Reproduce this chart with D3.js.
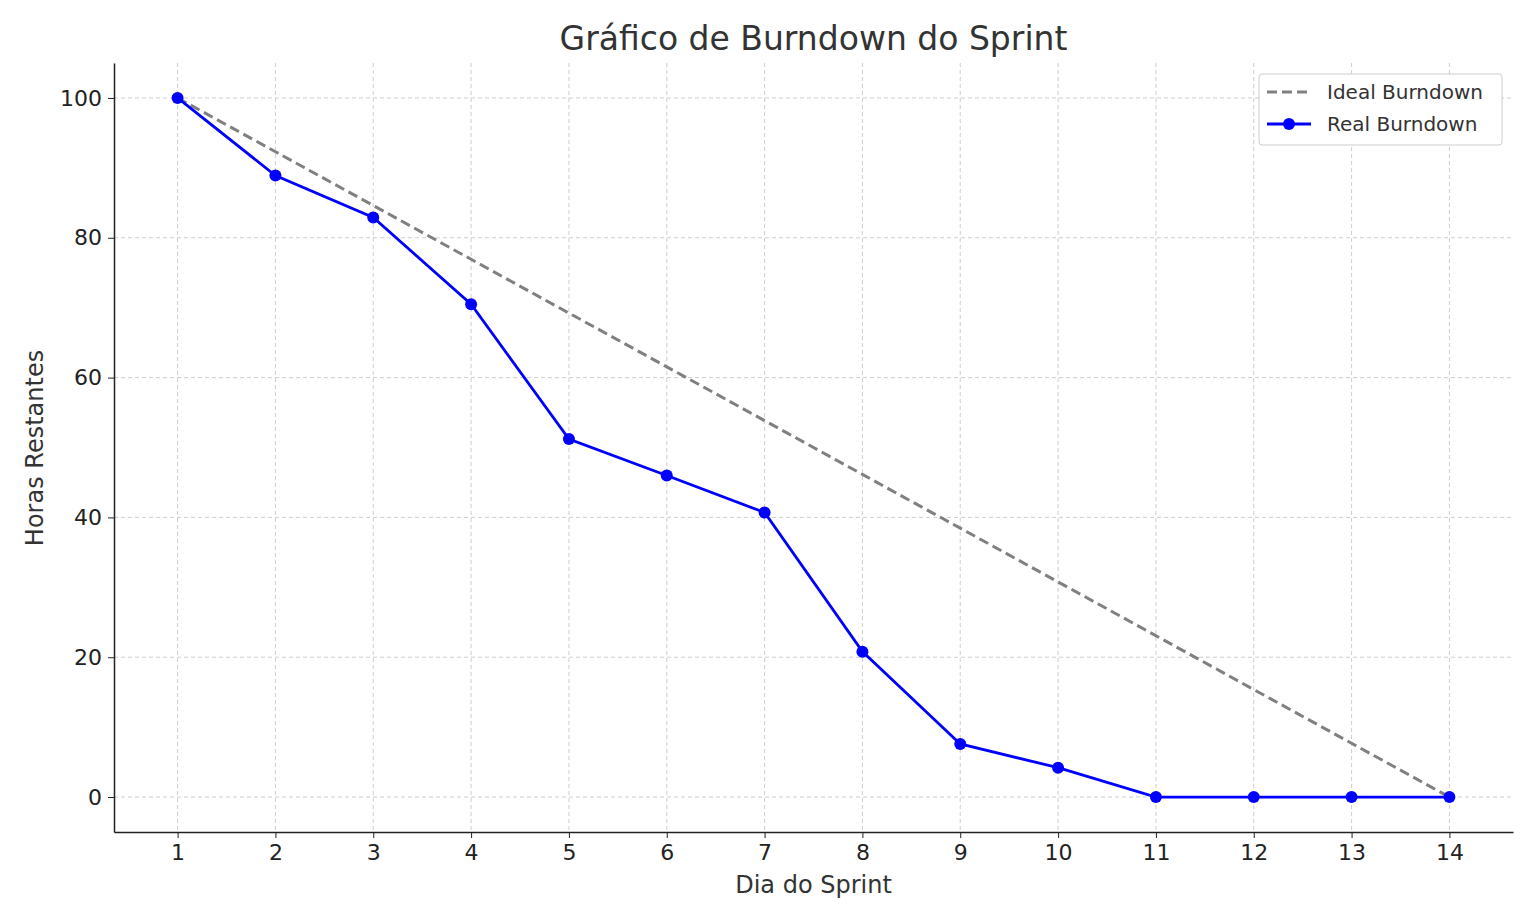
<!DOCTYPE html>
<html><head><meta charset="utf-8">
<script src="https://cdn.jsdelivr.net/npm/d3@7"></script>
<style>body{margin:0;background:#fff;font-family:"DejaVu Sans",sans-serif;}</style>
</head><body><svg id="c" width="1536" height="922"></svg>
<script>
const days=[1,2,3,4,5,6,7,8,9,10,11,12,13,14];
const ideal=[100,92.31,84.62,76.92,69.23,61.54,53.85,46.15,38.46,30.77,23.08,15.38,7.69,0];
const real=[100,88.9,82.9,70.5,51.2,46,40.7,20.8,7.6,4.2,0,0,0,0];
const yTicks=[0,20,40,60,80,100];
const svg=d3.select("#c");
const L=114,R=1513,T=63,B=832;
const x=d3.scaleLinear().domain([0.35,14.65]).range([L,R]);
const y=d3.scaleLinear().domain([-5,105]).range([B,T]);
const g=svg.append("g");
g.selectAll(".vx").data(days).join("line").attr("x1",d=>x(d)).attr("x2",d=>x(d)).attr("y1",T).attr("y2",B).attr("stroke","#c8c8c8").attr("stroke-dasharray","4,3").attr("stroke-width",0.9);
g.selectAll(".hy").data(yTicks).join("line").attr("x1",L).attr("x2",R).attr("y1",d=>y(d)).attr("y2",d=>y(d)).attr("stroke","#c8c8c8").attr("stroke-dasharray","4,3").attr("stroke-width",0.9);
const xa=svg.append("g").attr("transform",`translate(0,${B})`).call(d3.axisBottom(x).tickValues(days).tickSize(6).tickPadding(6).tickSizeOuter(0));
const ya=svg.append("g").attr("transform",`translate(${L},0)`).call(d3.axisLeft(y).tickValues(yTicks).tickSize(6).tickPadding(6).tickSizeOuter(0));
[xa,ya].forEach(a=>{a.attr("font-size",null);a.selectAll("text").style("font-size","22px").attr("fill","#222").style("font-family","DejaVu Sans");a.select(".domain").attr("stroke","#222").attr("stroke-width",1.5);a.selectAll(".tick line").attr("stroke","#222");});
svg.append("path").datum(days.map((d,i)=>[d,ideal[i]])).attr("d",d3.line().x(d=>x(d[0])).y(d=>y(d[1]))).attr("fill","none").attr("stroke","#808080").attr("stroke-width",3).attr("stroke-dasharray","10,5");
svg.append("path").datum(days.map((d,i)=>[d,real[i]])).attr("d",d3.line().x(d=>x(d[0])).y(d=>y(d[1]))).attr("fill","none").attr("stroke","#0000ff").attr("stroke-width",2.8);
svg.selectAll(".pt").data(days).join("circle").attr("cx",d=>x(d)).attr("cy",(d,i)=>y(real[i])).attr("r",6).attr("fill","#0000ff");
svg.append("text").attr("x",(L+R)/2).attr("y",50).attr("text-anchor","middle").style("font-size","33px").attr("fill","#333").text("Gráfico de Burndown do Sprint");
svg.append("text").attr("x",(L+R)/2).attr("y",893).attr("text-anchor","middle").style("font-size","24px").attr("fill","#333").text("Dia do Sprint");
svg.append("text").attr("transform",`translate(43,448) rotate(-90)`).attr("text-anchor","middle").style("font-size","24px").attr("fill","#333").text("Horas Restantes");
const lg=svg.append("g").attr("transform","translate(1259,74)");
lg.append("rect").attr("width",243).attr("height",71).attr("rx",3).attr("fill","#fff").attr("stroke","#ccc");
lg.append("line").attr("x1",8).attr("x2",52).attr("y1",18).attr("y2",18).attr("stroke","#808080").attr("stroke-width",3).attr("stroke-dasharray","10,5");
lg.append("line").attr("x1",8).attr("x2",52).attr("y1",50).attr("y2",50).attr("stroke","#0000ff").attr("stroke-width",2.8);
lg.append("circle").attr("cx",30).attr("cy",50).attr("r",6).attr("fill","#0000ff");
lg.append("text").attr("x",68).attr("y",25).style("font-size","20px").attr("fill","#333").text("Ideal Burndown");
lg.append("text").attr("x",68).attr("y",57).style("font-size","20px").attr("fill","#333").text("Real Burndown");
</script></body></html>
